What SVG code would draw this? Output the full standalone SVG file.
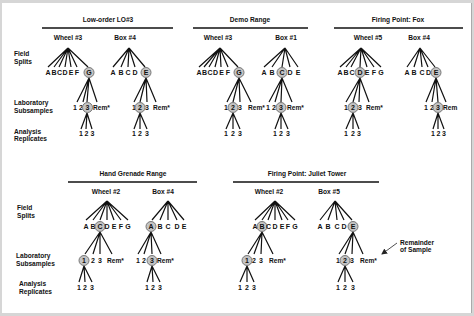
<svg xmlns="http://www.w3.org/2000/svg" width="474" height="316" viewBox="0 0 474 316">
<style>
text{font-family:"Liberation Sans",Arial,sans-serif;font-weight:bold;font-size:6.6px;fill:#111}
.m{text-anchor:middle;font-size:7px}
.h{text-anchor:middle;font-size:6.6px}
.f{stroke:#111;stroke-width:1.2;fill:none}
.r{stroke:#111;stroke-width:1.3}
.c{fill:#c4c4c4;stroke:#777;stroke-width:1}
.a{stroke:#222;stroke-width:0.8;fill:none}
</style>
<defs>
<marker id="ah" markerWidth="6" markerHeight="6" refX="5" refY="3" orient="auto" markerUnits="userSpaceOnUse">
<path d="M0,0 L6,3 L0,6 z" fill="#222"/>
</marker>
</defs>
<rect width="474" height="316" fill="#d6d6d6"/>
<rect x="2" y="3" width="469" height="310" fill="#fff"/>
<line x1="471.5" y1="3" x2="471.5" y2="313" stroke="#aaa" stroke-width="1"/>

<g id="row-labels">
<text x="14" y="55.5">Field</text><text x="14" y="64">Splits</text>
<text x="14" y="104.5">Laboratory</text><text x="14" y="112.5">Subsamples</text>
<text x="14" y="133.5">Analysis</text><text x="14" y="141">Replicates</text>
<text x="17" y="209.5">Field</text><text x="17" y="217.5">Splits</text>
<text x="16" y="257.5">Laboratory</text><text x="16" y="265.5">Subsamples</text>
<text x="19" y="285.5">Analysis</text><text x="19" y="293.5">Replicates</text>
</g>

<g id="headers">
<text class="h" x="108" y="21.5">Low-order LO#3</text>
<line class="r" x1="42" y1="28" x2="173" y2="28"/>
<text class="h" x="250" y="21.5">Demo Range</text>
<line class="r" x1="193" y1="28" x2="308" y2="28"/>
<text class="h" x="398" y="21.5">Firing Point: Fox</text>
<line class="r" x1="334" y1="28" x2="463" y2="28"/>
<text class="h" x="133" y="175.5">Hand Grenade Range</text>
<line class="r" x1="68" y1="182" x2="197" y2="182"/>
<text class="h" x="307" y="175.5">Firing Point: Juliet Tower</text>
<line class="r" x1="233" y1="182" x2="379" y2="182"/>
</g>

<g id="connectors">
<!-- LO#3 Wheel #3 -->
<path class="f" d="M68,48L48,67M68,48L54,67M68,48L59,67M68,48L65,67M68,48L71,67M68,48L77,67M68,48L88,67"/>
<path class="f" d="M89,78L77,102M89,78L83,102M89,78L87,102M89,78L97,102"/>
<path class="f" d="M87,113L81,129M87,113L86,129M87,113L92,129"/>
<!-- LO#3 Box #4 -->
<path class="f" d="M129,48L113,67M129,48L121,67M129,48L128,67M129,48L135,67M129,48L145,67"/>
<path class="f" d="M146,78L134,102M146,78L140,102M146,78L147,102M146,78L156,102"/>
<path class="f" d="M140,113L134,129M140,113L140,129M140,113L147,129"/>
<!-- Demo Wheel #3 -->
<path class="f" d="M220,48L199,67M220,48L204,67M220,48L209,67M220,48L215,67M220,48L221,67M220,48L228,67M220,48L238,67"/>
<path class="f" d="M239,78L227,102M239,78L233,102M239,78L240,102M239,78L251,102"/>
<path class="f" d="M233,113L226,129M233,113L233,129M233,113L240,129"/>
<!-- Demo Box #1 -->
<path class="f" d="M285,48L264,67M285,48L272,67M285,48L282,67M285,48L290,67M285,48L298,67"/>
<path class="f" d="M282,78L269,102M282,78L275,102M282,78L281,102M282,78L292,102"/>
<path class="f" d="M281,113L275,129M281,113L281,129M281,113L288,129"/>
<!-- Fox Wheel #5 -->
<path class="f" d="M361,48L340,67M361,48L346,67M361,48L351,67M361,48L360,67M361,48L367,67M361,48L374,67M361,48L381,67"/>
<path class="f" d="M360,78L346,102M360,78L353,102M360,78L359,102M360,78L369,102"/>
<path class="f" d="M353,113L346,129M353,113L353,129M353,113L359,129"/>
<!-- Fox Box #4 -->
<path class="f" d="M420,48L407,67M420,48L414,67M420,48L422,67M420,48L428,67M420,48L435,67"/>
<path class="f" d="M436,78L426,102M436,78L432,102M436,78L438,102M436,78L446,102"/>
<path class="f" d="M438,113L433,129M438,113L438,129M438,113L444,129"/>
<!-- HG Wheel #2 -->
<path class="f" d="M107,201L86,220M107,201L93,220M107,201L100,220M107,201L107,220M107,201L114,220M107,201L121,220M107,201L128,220"/>
<path class="f" d="M100,232L85,254M100,232L93,254M100,232L100,254M100,232L112,254"/>
<path class="f" d="M84,266L79,282M84,266L85,282M84,266L92,282"/>
<!-- HG Box #4 -->
<path class="f" d="M168,201L152,220M168,201L160,220M168,201L168,220M168,201L177,220M168,201L184,220"/>
<path class="f" d="M151,232L138,254M151,232L144,254M151,232L152,254M151,232L161,254"/>
<path class="f" d="M152,266L147,282M152,266L153,282M152,266L160,282"/>
<!-- Juliet Wheel #2 -->
<path class="f" d="M275,201L255,220M275,201L262,220M275,201L268,220M275,201L275,220M275,201L282,220M275,201L288,220M275,201L295,220"/>
<path class="f" d="M262,232L248,254M262,232L254,254M262,232L261,254M262,232L273,254"/>
<path class="f" d="M247,266L240,282M247,266L247,282M247,266L254,282"/>
<!-- Juliet Box #5 -->
<path class="f" d="M335,201L320,220M335,201L328,220M335,201L337,220M335,201L344,220M335,201L352,220"/>
<path class="f" d="M353,232L339,254M353,232L345,254M353,232L352,254M353,232L363,254"/>
<path class="f" d="M345,266L338,282M345,266L345,282M345,266L353,282"/>
<!-- annotation arrow -->
<line class="a" x1="397" y1="243" x2="382" y2="254" marker-end="url(#ah)"/>
</g>

<g id="lo3-wheel3">
<text class="h" x="68" y="39.5">Wheel #3</text>
<text class="m" x="48" y="74.5">A</text><text class="m" x="54" y="74.5">B</text><text class="m" x="59.5" y="74.5">C</text><text class="m" x="65" y="74.5">D</text><text class="m" x="71" y="74.5">E</text><text class="m" x="77" y="74.5">F</text>
<circle class="c" cx="89" cy="72.5" r="5"/><text class="m" x="89" y="75">G</text>
<text class="m" x="75" y="109.5">1</text><text class="m" x="81" y="109.5">2</text>
<circle class="c" cx="87.5" cy="107.5" r="5"/><text class="m" x="87.5" y="110">3</text>
<text x="93" y="109.5">Rem*</text>
<text class="m" x="81" y="136">1</text><text class="m" x="86.5" y="136">2</text><text class="m" x="92.5" y="136">3</text>
</g>

<g id="lo3-box4">
<text class="h" x="125" y="39.5">Box #4</text>
<text class="m" x="113" y="74.5">A</text><text class="m" x="121" y="74.5">B</text><text class="m" x="128" y="74.5">C</text><text class="m" x="135" y="74.5">D</text>
<circle class="c" cx="146" cy="72.5" r="5"/><text class="m" x="146" y="75">E</text>
<text class="m" x="134" y="109.5">1</text>
<circle class="c" cx="140" cy="107.5" r="5"/><text class="m" x="140" y="110">2</text>
<text class="m" x="147" y="109.5">3</text>
<text x="153" y="109.5">Rem*</text>
<text class="m" x="134" y="136">1</text><text class="m" x="140" y="136">2</text><text class="m" x="147" y="136">3</text>
</g>

<g id="demo-wheel3">
<text class="h" x="218" y="39.5">Wheel #3</text>
<text class="m" x="199" y="74.5">A</text><text class="m" x="204.5" y="74.5">B</text><text class="m" x="210" y="74.5">C</text><text class="m" x="215.5" y="74.5">D</text><text class="m" x="221.5" y="74.5">E</text><text class="m" x="228" y="74.5">F</text>
<circle class="c" cx="239" cy="72.5" r="5"/><text class="m" x="239" y="75">G</text>
<text class="m" x="226" y="109.5">1</text>
<circle class="c" cx="233" cy="107.5" r="5"/><text class="m" x="233" y="110">2</text>
<text class="m" x="240" y="109.5">3</text>
<text x="248" y="109.5">Rem*</text>
<text class="m" x="226" y="136">1</text><text class="m" x="233" y="136">2</text><text class="m" x="240" y="136">3</text>
</g>

<g id="demo-box1">
<text class="h" x="286" y="39.5">Box #1</text>
<text class="m" x="264" y="74.5">A</text><text class="m" x="272" y="74.5">B</text>
<circle class="c" cx="282" cy="72.5" r="5"/><text class="m" x="282" y="75">C</text>
<text class="m" x="290" y="74.5">D</text><text class="m" x="298" y="74.5">E</text>
<text class="m" x="268" y="109.5">1</text><text class="m" x="274" y="109.5">2</text>
<circle class="c" cx="281" cy="107.5" r="5"/><text class="m" x="281" y="110">3</text>
<text x="287" y="109.5">Rem*</text>
<text class="m" x="275" y="136">1</text><text class="m" x="281" y="136">2</text><text class="m" x="288" y="136">3</text>
</g>

<g id="fox-wheel5">
<text class="h" x="368" y="39.5">Wheel #5</text>
<text class="m" x="340" y="74.5">A</text><text class="m" x="346" y="74.5">B</text><text class="m" x="352" y="74.5">C</text>
<circle class="c" cx="360" cy="72.5" r="5"/><text class="m" x="360" y="75">D</text>
<text class="m" x="367" y="74.5">E</text><text class="m" x="374" y="74.5">F</text><text class="m" x="381" y="74.5">G</text>
<text class="m" x="346" y="109.5">1</text>
<circle class="c" cx="353" cy="107.5" r="5"/><text class="m" x="353" y="110">2</text>
<text class="m" x="360" y="109.5">3</text>
<text x="366" y="109.5">Rem*</text>
<text class="m" x="346" y="136">1</text><text class="m" x="353" y="136">2</text><text class="m" x="359" y="136">3</text>
</g>

<g id="fox-box4">
<text class="h" x="419" y="39.5">Box #4</text>
<text class="m" x="407" y="74.5">A</text><text class="m" x="414" y="74.5">B</text><text class="m" x="422" y="74.5">C</text><text class="m" x="428.5" y="74.5">D</text>
<circle class="c" cx="436" cy="72.5" r="5"/><text class="m" x="436" y="75">E</text>
<text class="m" x="426" y="109.5">1</text><text class="m" x="432" y="109.5">2</text>
<circle class="c" cx="438" cy="107.5" r="5"/><text class="m" x="438" y="110">3</text>
<text x="443" y="109.5">Rem</text>
<text class="m" x="433" y="136">1</text><text class="m" x="438.5" y="136">2</text><text class="m" x="444" y="136">3</text>
</g>

<g id="hg-wheel2">
<text class="h" x="106" y="193.5">Wheel #2</text>
<text class="m" x="86" y="228.5">A</text><text class="m" x="93" y="228.5">B</text>
<circle class="c" cx="100" cy="226.5" r="5"/><text class="m" x="100" y="229">C</text>
<text class="m" x="107" y="228.5">D</text><text class="m" x="114" y="228.5">E</text><text class="m" x="121" y="228.5">F</text><text class="m" x="128" y="228.5">G</text>
<circle class="c" cx="84" cy="260.5" r="5"/><text class="m" x="84" y="263">1</text>
<text class="m" x="93" y="262.5">2</text><text class="m" x="100" y="262.5">3</text>
<text x="107" y="262.5">Rem*</text>
<text class="m" x="79" y="289.5">1</text><text class="m" x="85" y="289.5">2</text><text class="m" x="92" y="289.5">3</text>
</g>

<g id="hg-box4">
<text class="h" x="163" y="193.5">Box #4</text>
<circle class="c" cx="151" cy="226.5" r="5"/><text class="m" x="151" y="229">A</text>
<text class="m" x="160" y="228.5">B</text><text class="m" x="168" y="228.5">C</text><text class="m" x="177" y="228.5">D</text><text class="m" x="184" y="228.5">E</text>
<text class="m" x="138" y="262.5">1</text><text class="m" x="144" y="262.5">2</text>
<circle class="c" cx="152" cy="260.5" r="5"/><text class="m" x="152" y="263">3</text>
<text x="157" y="262.5">Rem*</text>
<text class="m" x="147" y="289.5">1</text><text class="m" x="153" y="289.5">2</text><text class="m" x="160" y="289.5">3</text>
</g>

<g id="juliet-wheel2">
<text class="h" x="269" y="193.5">Wheel #2</text>
<text class="m" x="255" y="228.5">A</text>
<circle class="c" cx="262" cy="226.5" r="5"/><text class="m" x="262" y="229">B</text>
<text class="m" x="268.5" y="228.5">C</text><text class="m" x="275" y="228.5">D</text><text class="m" x="282" y="228.5">E</text><text class="m" x="288" y="228.5">F</text><text class="m" x="295" y="228.5">G</text>
<circle class="c" cx="247" cy="260.5" r="5"/><text class="m" x="247" y="263">1</text>
<text class="m" x="254" y="262.5">2</text><text class="m" x="261" y="262.5">3</text>
<text x="269" y="262.5">Rem*</text>
<text class="m" x="240" y="289.5">1</text><text class="m" x="247" y="289.5">2</text><text class="m" x="254" y="289.5">3</text>
</g>

<g id="juliet-box5">
<text class="h" x="329" y="193.5">Box #5</text>
<text class="m" x="320" y="228.5">A</text><text class="m" x="328" y="228.5">B</text><text class="m" x="337" y="228.5">C</text><text class="m" x="344" y="228.5">D</text>
<circle class="c" cx="353" cy="226.5" r="5"/><text class="m" x="353" y="229">E</text>
<text class="m" x="338" y="262.5">1</text>
<circle class="c" cx="345" cy="260.5" r="5"/><text class="m" x="345" y="263">2</text>
<text class="m" x="352" y="262.5">3</text>
<text x="360" y="262.5">Rem*</text>
<text class="m" x="338" y="289.5">1</text><text class="m" x="345" y="289.5">2</text><text class="m" x="353" y="289.5">3</text>
</g>

<g id="remainder-note">
<text x="400" y="244.5">Remainder</text>
<text x="400" y="252">of Sample</text>
</g>
</svg>
